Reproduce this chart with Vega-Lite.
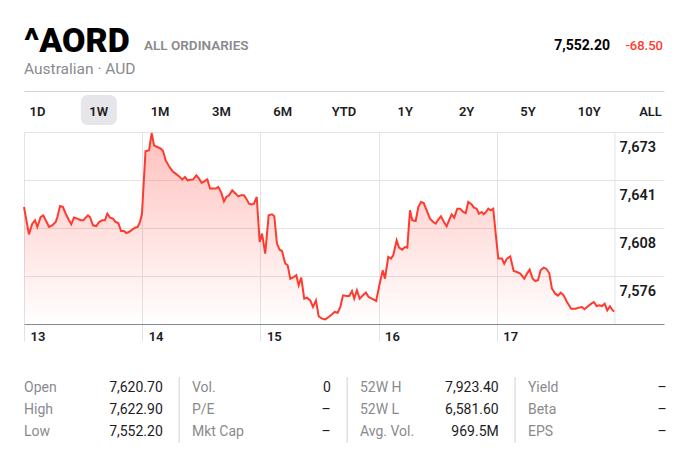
{
  "$schema": "https://vega.github.io/schema/vega-lite/v6.json",
  "background": "white",
  "padding": {"left": 20, "top": 25, "right": 31, "bottom": 0},
  "config": {"view": {"stroke": null}, "font": "Roboto"},
  "datasets": {
    "quote": [{"symbol": "^AORD", "name": "ALL ORDINARIES", "market": "Australian · AUD", "price": "7,552.20", "change": "-68.50"}],
    "periods": [
      {"period": "1D", "selected": false}, {"period": "1W", "selected": true}, {"period": "1M", "selected": false},
      {"period": "3M", "selected": false}, {"period": "6M", "selected": false}, {"period": "YTD", "selected": false},
      {"period": "1Y", "selected": false}, {"period": "2Y", "selected": false}, {"period": "5Y", "selected": false},
      {"period": "10Y", "selected": false}, {"period": "ALL", "selected": false}
    ],
    "boundary": [{"day": 18}],
    "prices": [
      {"day": 13.000, "price": 7622.5}, {"day": 13.042, "price": 7604.1}, {"day": 13.070, "price": 7611.3}, {"day": 13.093, "price": 7613.6},
      {"day": 13.113, "price": 7609.1}, {"day": 13.141, "price": 7615.8}, {"day": 13.163, "price": 7616.9}, {"day": 13.184, "price": 7613.6},
      {"day": 13.212, "price": 7609.1}, {"day": 13.239, "price": 7610.2}, {"day": 13.268, "price": 7612.4}, {"day": 13.282, "price": 7615.8},
      {"day": 13.305, "price": 7623.2}, {"day": 13.330, "price": 7622.5}, {"day": 13.353, "price": 7618.0}, {"day": 13.381, "price": 7613.6},
      {"day": 13.400, "price": 7610.9}, {"day": 13.423, "price": 7615.4}, {"day": 13.451, "price": 7614.7}, {"day": 13.480, "price": 7613.6},
      {"day": 13.502, "price": 7613.6}, {"day": 13.522, "price": 7615.4}, {"day": 13.541, "price": 7616.9}, {"day": 13.558, "price": 7615.8},
      {"day": 13.584, "price": 7610.2}, {"day": 13.612, "price": 7609.7}, {"day": 13.635, "price": 7612.4}, {"day": 13.662, "price": 7613.6},
      {"day": 13.685, "price": 7613.6}, {"day": 13.705, "price": 7618.0}, {"day": 13.728, "price": 7615.4}, {"day": 13.753, "price": 7614.7},
      {"day": 13.776, "price": 7612.4}, {"day": 13.798, "price": 7611.8}, {"day": 13.821, "price": 7606.4}, {"day": 13.846, "price": 7606.4},
      {"day": 13.865, "price": 7605.0}, {"day": 13.888, "price": 7605.7}, {"day": 13.916, "price": 7607.3}, {"day": 13.939, "price": 7608.6},
      {"day": 13.962, "price": 7609.1}, {"day": 13.981, "price": 7612.4}, {"day": 13.998, "price": 7618.0}, {"day": 14.028, "price": 7660.0},
      {"day": 14.058, "price": 7660.7}, {"day": 14.080, "price": 7672.3}, {"day": 14.100, "price": 7664.0}, {"day": 14.128, "price": 7662.9},
      {"day": 14.157, "price": 7661.8}, {"day": 14.176, "price": 7660.2}, {"day": 14.199, "price": 7653.9}, {"day": 14.227, "price": 7649.9},
      {"day": 14.255, "price": 7646.8}, {"day": 14.283, "price": 7645.0}, {"day": 14.311, "price": 7643.2}, {"day": 14.339, "price": 7641.1},
      {"day": 14.362, "price": 7642.7}, {"day": 14.385, "price": 7640.5}, {"day": 14.410, "price": 7640.9}, {"day": 14.432, "price": 7641.1},
      {"day": 14.458, "price": 7643.8}, {"day": 14.481, "price": 7641.6}, {"day": 14.503, "price": 7638.7}, {"day": 14.525, "price": 7639.8},
      {"day": 14.551, "price": 7641.1}, {"day": 14.574, "price": 7634.9}, {"day": 14.599, "price": 7634.9}, {"day": 14.622, "price": 7634.9},
      {"day": 14.644, "price": 7636.0}, {"day": 14.669, "price": 7632.2}, {"day": 14.692, "price": 7626.3}, {"day": 14.712, "price": 7629.3},
      {"day": 14.734, "price": 7630.4}, {"day": 14.762, "price": 7633.7}, {"day": 14.791, "price": 7631.5}, {"day": 14.813, "price": 7629.7},
      {"day": 14.836, "price": 7630.4}, {"day": 14.861, "price": 7630.4}, {"day": 14.881, "price": 7628.1}, {"day": 14.904, "price": 7624.8},
      {"day": 14.926, "price": 7624.3}, {"day": 14.946, "price": 7624.8}, {"day": 14.969, "price": 7629.3}, {"day": 14.994, "price": 7599.0},
      {"day": 15.014, "price": 7604.6}, {"day": 15.041, "price": 7591.1}, {"day": 15.070, "price": 7616.9}, {"day": 15.098, "price": 7617.6},
      {"day": 15.118, "price": 7616.3}, {"day": 15.140, "price": 7597.9}, {"day": 15.163, "price": 7593.8}, {"day": 15.183, "price": 7592.9},
      {"day": 15.211, "price": 7584.4}, {"day": 15.231, "price": 7583.3}, {"day": 15.253, "price": 7574.3}, {"day": 15.282, "price": 7575.4},
      {"day": 15.304, "price": 7576.6}, {"day": 15.324, "price": 7569.8}, {"day": 15.346, "price": 7575.0}, {"day": 15.371, "price": 7560.9},
      {"day": 15.394, "price": 7561.5}, {"day": 15.422, "price": 7559.7}, {"day": 15.445, "price": 7555.2}, {"day": 15.470, "price": 7559.7},
      {"day": 15.493, "price": 7549.0}, {"day": 15.521, "price": 7547.4}, {"day": 15.549, "price": 7546.9}, {"day": 15.578, "price": 7548.5},
      {"day": 15.606, "price": 7550.3}, {"day": 15.629, "price": 7551.9}, {"day": 15.654, "price": 7551.4}, {"day": 15.676, "price": 7555.2},
      {"day": 15.699, "price": 7563.1}, {"day": 15.727, "price": 7562.6}, {"day": 15.752, "price": 7562.6}, {"day": 15.775, "price": 7566.0},
      {"day": 15.794, "price": 7560.9}, {"day": 15.817, "price": 7566.5}, {"day": 15.840, "price": 7560.9}, {"day": 15.868, "price": 7563.1},
      {"day": 15.893, "price": 7564.9}, {"day": 15.916, "price": 7562.0}, {"day": 15.944, "price": 7560.9}, {"day": 15.980, "price": 7559.3},
      {"day": 16.009, "price": 7570.9}, {"day": 16.035, "price": 7579.9}, {"day": 16.054, "price": 7574.3}, {"day": 16.082, "price": 7588.9},
      {"day": 16.105, "price": 7587.8}, {"day": 16.124, "price": 7590.0}, {"day": 16.153, "price": 7600.1}, {"day": 16.173, "price": 7595.2},
      {"day": 16.200, "price": 7593.8}, {"day": 16.223, "price": 7595.6}, {"day": 16.243, "price": 7595.2}, {"day": 16.266, "price": 7620.3},
      {"day": 16.285, "price": 7613.6}, {"day": 16.314, "price": 7613.1}, {"day": 16.336, "price": 7622.5}, {"day": 16.359, "price": 7625.9},
      {"day": 16.382, "price": 7625.2}, {"day": 16.407, "price": 7620.3}, {"day": 16.435, "price": 7614.7}, {"day": 16.463, "price": 7612.4},
      {"day": 16.483, "price": 7611.3}, {"day": 16.505, "price": 7614.0}, {"day": 16.528, "price": 7616.3}, {"day": 16.553, "price": 7612.4},
      {"day": 16.576, "price": 7609.5}, {"day": 16.596, "price": 7613.6}, {"day": 16.618, "price": 7617.6}, {"day": 16.640, "price": 7615.4},
      {"day": 16.666, "price": 7621.4}, {"day": 16.689, "price": 7621.4}, {"day": 16.717, "price": 7619.2}, {"day": 16.737, "price": 7618.5},
      {"day": 16.759, "price": 7625.9}, {"day": 16.788, "price": 7624.3}, {"day": 16.807, "price": 7622.1}, {"day": 16.830, "price": 7621.4},
      {"day": 16.849, "price": 7618.0}, {"day": 16.872, "price": 7619.2}, {"day": 16.889, "price": 7617.6}, {"day": 16.909, "price": 7619.2},
      {"day": 16.928, "price": 7621.4}, {"day": 16.948, "price": 7620.3}, {"day": 16.970, "price": 7621.4}, {"day": 16.991, "price": 7604.6},
      {"day": 17.013, "price": 7587.8}, {"day": 17.044, "price": 7587.8}, {"day": 17.063, "price": 7584.4}, {"day": 17.086, "price": 7587.8},
      {"day": 17.114, "price": 7589.3}, {"day": 17.143, "price": 7579.5}, {"day": 17.171, "price": 7578.8}, {"day": 17.199, "price": 7577.7},
      {"day": 17.233, "price": 7574.3}, {"day": 17.256, "price": 7577.7}, {"day": 17.278, "price": 7580.4}, {"day": 17.304, "price": 7574.3},
      {"day": 17.326, "price": 7572.7}, {"day": 17.349, "price": 7573.2}, {"day": 17.371, "price": 7579.9}, {"day": 17.397, "price": 7581.7},
      {"day": 17.419, "price": 7581.0}, {"day": 17.444, "price": 7578.1}, {"day": 17.467, "price": 7567.6}, {"day": 17.495, "price": 7564.2},
      {"day": 17.518, "price": 7562.9}, {"day": 17.541, "price": 7564.9}, {"day": 17.566, "price": 7563.1}, {"day": 17.594, "price": 7558.6},
      {"day": 17.630, "price": 7554.1}, {"day": 17.664, "price": 7554.1}, {"day": 17.693, "price": 7554.8}, {"day": 17.721, "price": 7555.2},
      {"day": 17.743, "price": 7553.7}, {"day": 17.772, "price": 7555.7}, {"day": 17.800, "price": 7557.5}, {"day": 17.822, "price": 7558.6},
      {"day": 17.845, "price": 7555.9}, {"day": 17.867, "price": 7556.4}, {"day": 17.890, "price": 7555.9}, {"day": 17.913, "price": 7557.5},
      {"day": 17.935, "price": 7553.0}, {"day": 17.958, "price": 7555.7}, {"day": 17.980, "price": 7553.0}, {"day": 17.997, "price": 7552.2}
    ],
    "stats": [
      {"col": 1, "row": 1, "label": "Open", "value": "7,620.70"},
      {"col": 1, "row": 2, "label": "High", "value": "7,622.90"},
      {"col": 1, "row": 3, "label": "Low", "value": "7,552.20"},
      {"col": 2, "row": 1, "label": "Vol.", "value": "0"},
      {"col": 2, "row": 2, "label": "P/E", "value": "–"},
      {"col": 2, "row": 3, "label": "Mkt Cap", "value": "–"},
      {"col": 3, "row": 1, "label": "52W H", "value": "7,923.40"},
      {"col": 3, "row": 2, "label": "52W L", "value": "6,581.60"},
      {"col": 3, "row": 3, "label": "Avg. Vol.", "value": "969.5M"},
      {"col": 4, "row": 1, "label": "Yield", "value": "–"},
      {"col": 4, "row": 2, "label": "Beta", "value": "–"},
      {"col": 4, "row": 3, "label": "EPS", "value": "–"}
    ]
  },
  "spacing": 33,
  "vconcat": [
    {
      "spacing": 4,
      "vconcat": [
        {
          "width": 640,
          "height": 64,
          "data": {"name": "quote"},
          "layer": [
            {
              "mark": {"type": "text", "align": "left", "baseline": "alphabetic", "fontSize": 34, "fontWeight": 900, "color": "#000000"},
              "encoding": {
                "text": {"field": "symbol"},
                "x": {"datum": "left", "type": "nominal", "scale": {"type": "point", "domain": ["left", "right"], "padding": 0},
                      "axis": {"title": null, "labels": false, "ticks": false, "grid": false, "domain": true, "domainColor": "#d1d1d6", "domainWidth": 1}},
                "y": {"datum": "main", "type": "nominal", "scale": {"type": "point", "domain": ["main", "sub"], "padding": 1, "align": 0.595}, "axis": null}
              }
            },
            {
              "mark": {"type": "text", "align": "left", "baseline": "alphabetic", "fontSize": 13.5, "fontWeight": 600, "color": "#8a8a8e", "dx": 120, "dy": -2},
              "encoding": {
                "text": {"field": "name"},
                "x": {"datum": "left", "type": "nominal"},
                "y": {"datum": "main", "type": "nominal"}
              }
            },
            {
              "mark": {"type": "text", "align": "left", "baseline": "alphabetic", "fontSize": 15.5, "fontWeight": 400, "color": "#8a8a8e"},
              "encoding": {
                "text": {"field": "market"},
                "x": {"datum": "left", "type": "nominal"},
                "y": {"datum": "sub", "type": "nominal"}
              }
            },
            {
              "mark": {"type": "text", "align": "right", "baseline": "alphabetic", "fontSize": 14, "fontWeight": 700, "color": "#000000", "dx": -54, "dy": -2},
              "encoding": {
                "text": {"field": "price"},
                "x": {"datum": "right", "type": "nominal"},
                "y": {"datum": "main", "type": "nominal"}
              }
            },
            {
              "mark": {"type": "text", "align": "right", "baseline": "alphabetic", "fontSize": 13, "fontWeight": 500, "color": "#ff3b30", "dx": -1, "dy": -2},
              "encoding": {
                "text": {"field": "change"},
                "x": {"datum": "right", "type": "nominal"},
                "y": {"datum": "main", "type": "nominal"}
              }
            }
          ]
        },
        {
          "width": 640,
          "height": 30,
          "data": {"name": "periods"},
          "layer": [
            {
              "transform": [{"filter": "datum.selected"}],
              "mark": {"type": "bar", "width": 36, "cornerRadius": 7, "color": "#e5e5ea"},
              "encoding": {
                "x": {"field": "period", "type": "nominal", "scale": {"type": "point", "padding": 0.22, "domain": ["1D", "1W", "1M", "3M", "6M", "YTD", "1Y", "2Y", "5Y", "10Y", "ALL"]}, "axis": null}
              }
            },
            {
              "mark": {"type": "text", "baseline": "middle", "fontSize": 13, "fontWeight": 600, "color": "#1c1c1e", "dy": 1.5},
              "encoding": {
                "text": {"field": "period"},
                "x": {"field": "period", "type": "nominal", "axis": null}
              }
            }
          ]
        },
        {
          "width": 640,
          "height": 192,
          "layer": [
            {
              "data": {"name": "prices"},
              "mark": {"type": "area", "fill": {"gradient": "linear", "x1": 0, "y1": 0, "x2": 0, "y2": 1,
                "stops": [{"offset": 0, "color": "rgba(255,59,48,0.32)"}, {"offset": 1, "color": "rgba(255,59,48,0.0)"}]}},
              "encoding": {
                "x": {"field": "day", "type": "quantitative", "scale": {"domain": [13, 18.415], "nice": false, "zero": false},
                      "axis": {"values": [13, 14, 15, 16, 17], "format": "d", "title": null, "grid": true, "gridColor": "#e3e3e3",
                               "domainColor": "#8a8a8e", "tickColor": "#e3e3e3", "tickSize": 17, "labelAlign": "left", "labelBaseline": "alphabetic",
                               "labelPadding": -1, "labelOffset": 6, "labelFontSize": 13, "labelFontWeight": 600, "labelColor": "#1c1c1e", "labelFlush": false}},
                "y": {"field": "price", "type": "quantitative", "scale": {"domain": [7543.8, 7673], "nice": false, "zero": false, "clamp": true},
                      "axis": {"orient": "right", "values": [7576.1, 7608.4, 7640.7, 7673], "format": ",.0f", "title": null, "grid": true, "gridColor": "#e3e3e3",
                               "domain": false, "ticks": false, "labelAlign": "left", "labelBaseline": "middle", "labelPadding": -45, "labelOffset": 15,
                               "labelFontSize": 14.5, "labelFontWeight": 600, "labelColor": "#1c1c1e", "labelFlush": false}}
              }
            },
            {
              "data": {"name": "prices"},
              "mark": {"type": "line", "color": "#ff3b30", "strokeWidth": 2},
              "encoding": {
                "x": {"field": "day", "type": "quantitative"},
                "y": {"field": "price", "type": "quantitative"}
              }
            },
            {
              "data": {"name": "boundary"},
              "mark": {"type": "rule", "color": "#e3e3e3", "strokeWidth": 1},
              "encoding": {
                "x": {"field": "day", "type": "quantitative"}
              }
            }
          ]
        }
      ]
    },
    {
      "width": 640,
      "height": 66,
      "data": {"name": "stats"},
      "layer": [
        {
          "transform": [{"filter": "datum.row == 1 && datum.col < 4"}],
          "mark": {"type": "rule", "color": "#d1d1d6"},
          "encoding": {
            "x": {"field": "col", "type": "ordinal", "bandPosition": 1.14, "scale": {"type": "band", "domain": [1, 2, 3, 4], "paddingInner": 0.19, "paddingOuter": 0}, "axis": null}
          }
        },
        {
          "mark": {"type": "text", "align": "left", "baseline": "middle", "fontSize": 14, "color": "#8a8a8e"},
          "encoding": {
            "text": {"field": "label"},
            "x": {"field": "col", "type": "ordinal", "bandPosition": 0},
            "y": {"field": "row", "type": "ordinal", "scale": {"type": "point", "padding": 0.5}, "axis": null}
          }
        },
        {
          "mark": {"type": "text", "align": "right", "baseline": "middle", "fontSize": 14, "color": "#1c1c1e"},
          "encoding": {
            "text": {"field": "value"},
            "x": {"field": "col", "type": "ordinal", "bandPosition": 1.02},
            "y": {"field": "row", "type": "ordinal"}
          }
        }
      ]
    }
  ]
}
